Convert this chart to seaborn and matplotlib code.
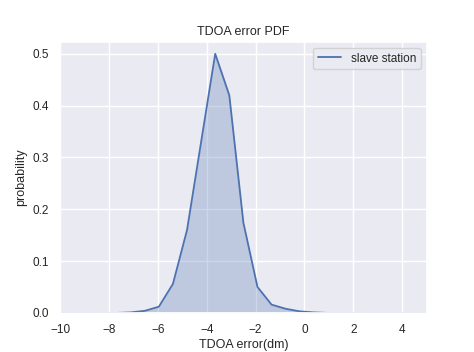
import matplotlib
matplotlib.use("Agg")
import matplotlib.pyplot as plt
import seaborn as sns
import numpy as np

sns.set_theme(style="darkgrid")
plt.rcParams['font.family'] = ['Liberation Sans', 'DejaVu Sans']

# erro TDOA (dm) e probabilidade estimada
erro = np.linspace(-10, 5, 27)
prob = [0.0, 0.0, 0.0, 0.0, 0.0, 0.001, 0.004, 0.012, 0.056, 0.16,
        0.33, 0.5, 0.42, 0.174, 0.05, 0.016, 0.008, 0.003, 0.001,
        0.0, 0.0, 0.0, 0.0, 0.0, 0.0, 0.0, 0.0]

fig, ax = plt.subplots(figsize=(4.74, 3.52), dpi=100)
sns.lineplot(x=erro, y=prob, ax=ax, label='slave station', color='#4C72B0', linewidth=1.3)
ax.fill_between(erro, prob, color='#4C72B0', alpha=0.28, linewidth=0)

ax.set_xlim(-10, 5)
ax.set_ylim(0, 0.523)
ax.set_xticks(np.arange(-10, 5, 2))
ax.set_yticks(np.arange(0, 0.51, 0.1))
ax.set_title('TDOA error PDF', fontsize=9, pad=5)
ax.set_xlabel('TDOA error(dm)', fontsize=9, labelpad=2)
ax.set_ylabel('probability', fontsize=9, labelpad=4)
ax.tick_params(labelsize=8.5, pad=2)
ax.legend(loc='upper right', fontsize=8.5)

fig.subplots_adjust(left=0.127, right=0.90, top=0.881, bottom=0.111)
fig.savefig('out.png', dpi=100)
